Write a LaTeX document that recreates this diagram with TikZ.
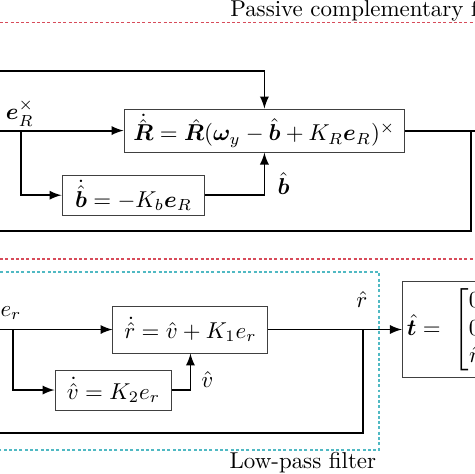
\documentclass[tikz,border=0pt]{standalone}
\usepackage{amsmath,amssymb}
\usepackage{bm}
\usepackage{xcolor}
\usepackage{tikz}
\definecolor{sepred}{RGB}{215,75,90}
\definecolor{lpfcyan}{RGB}{80,185,195}

\begin{document}
\begin{tikzpicture}[>=latex,
  block/.style={draw=black!75,line width=0.4pt,inner sep=2pt},
  conn/.style={line width=0.8pt},
  sep/.style={sepred,line width=0.5pt,dash pattern=on 1.3pt off 1pt},
  lpf/.style={lpfcyan,line width=0.6pt,dash pattern=on 1.3pt off 1pt}]
\useasboundingbox (0,0) rectangle (7.26,7.26);
% Separators and titles
\draw[sep] (0,6.912) -- (7.26,6.912);
\draw[sep] (0,3.294) -- (7.26,3.294);
\node[anchor=base west,inner sep=0pt] (pcf) at (3.52,7.0) {Passive complementary filter};
% Attitude blocks
\node[block,minimum width=4.3cm,minimum height=0.66cm] (Rdot) at (4.05,5.26)
  {$\dot{\hat{\bm R}} = \hat{\bm R}(\bm\omega_y - \hat{\bm b} + K_R\bm e_R)^{\times}$};
\node[block,minimum width=2.19cm,minimum height=0.6cm] (bdot) at (2.044,4.27)
  {$\dot{\hat{\bm b}} = -K_b\bm e_R$};
\node (eRlab) at (0.306,5.53) {$\bm e_R^{\times}$};
\coordinate (inR) at (0,5.26);
\coordinate (brR) at (0.32,5.26);
\coordinate (topL) at (0,6.173);
\coordinate (outR) at (7.4,5.26);
\coordinate (brOut) at (7.213,5.26);
\coordinate (fbL) at (0,3.72);
\draw[conn,->] (inR) -- (Rdot);
\draw[conn,->] (brR) |- (bdot);
\draw[conn,->] (bdot) -| node[pos=0.64,right=2pt] (blab) {$\hat{\bm b}$} (Rdot.south);
\draw[conn,->] (topL) -| (Rdot.north);
\draw[conn] (Rdot) -- (outR);
\draw[conn] (brOut) |- (fbL);
% Low-pass filter
\draw[lpf] (-0.1,0.368) rectangle (5.804,3.093);
\node[anchor=north east,inner sep=1pt] (lpflab) at (5.804,0.368) {Low-pass filter};
\node[block,minimum width=2.374cm,minimum height=0.72cm] (rdot) at (2.917,2.213)
  {$\dot{\hat r} = \hat v + K_1 e_r$};
\node[block,minimum width=1.79cm,minimum height=0.613cm] (vdot) at (1.738,1.286)
  {$\dot{\hat v} = K_2 e_r$};
\node[block,anchor=west,minimum height=1.471cm] (tvec) at (6.156,2.213)
  {$\hat{\bm t} = \;\begin{bmatrix} 0 \\ 0 \\ \hat r \end{bmatrix}$\hspace{1.5cm}};
\node (erlab) at (0.168,2.467) {$e_r$};
\node (rlab) at (5.544,2.665) {$\hat r$};
\coordinate (inr) at (0,2.213);
\coordinate (brr) at (0.2,2.213);
\coordinate (brt) at (5.559,2.213);
\coordinate (fbr) at (0,0.628);
\draw[conn,->] (inr) -- (rdot);
\draw[conn,->] (brr) |- (vdot);
\draw[conn,->] (vdot) -| node[pos=0.64,right=1pt] (vlab) {$\hat v$} (rdot.south);
\draw[conn,->] (rdot) -- (tvec);
\draw[conn] (brt) |- (fbr);
\end{tikzpicture}
\end{document}
